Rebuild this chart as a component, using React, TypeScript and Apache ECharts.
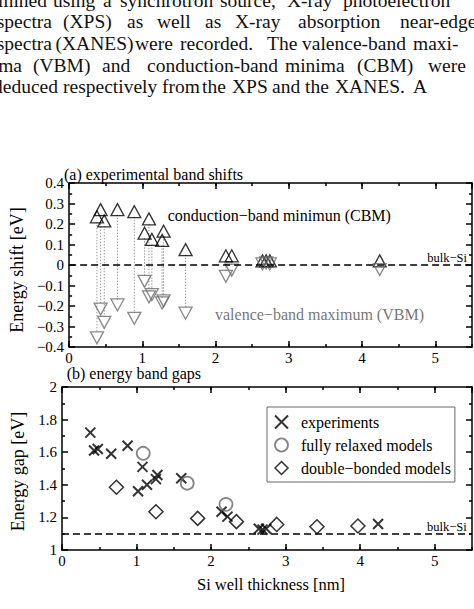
import React, { useEffect, useRef } from 'react';
import * as echarts from 'echarts';

// ---- (a) experimental band shifts ----
const shiftThickness = [0.38, 0.43, 0.48, 0.66, 0.89, 1.03, 1.09, 1.13, 1.27, 1.29, 1.59, 2.14, 2.22, 2.64, 2.69, 2.74, 4.24];
const cbmShift = [0.235, 0.27, 0.215, 0.27, 0.26, 0.155, 0.225, 0.125, 0.12, 0.165, 0.075, 0.045, 0.045, 0.02, 0.02, 0.02, 0.02];
const vbmShift = [-0.355, -0.215, -0.28, -0.195, -0.26, -0.08, -0.155, -0.145, -0.185, -0.175, -0.235, -0.055, -0.025, 0.005, 0.01, 0.005, -0.022];
const bulkShift = 0;

// ---- (b) energy band gaps ----
const expThickness = [0.38, 0.43, 0.48, 0.66, 0.88, 1.02, 1.08, 1.14, 1.26, 1.28, 1.6, 2.14, 2.22, 2.64, 2.69, 2.74, 4.24];
const expGap = [1.72, 1.61, 1.62, 1.59, 1.64, 1.36, 1.51, 1.4, 1.435, 1.46, 1.44, 1.235, 1.205, 1.13, 1.125, 1.13, 1.16];
const relaxedThickness = [1.09, 1.68, 2.2];
const relaxedGap = [1.593, 1.41, 1.28];
const doubleThickness = [0.73, 1.26, 1.82, 2.34, 2.88, 3.42, 3.97];
const doubleGap = [1.385, 1.235, 1.194, 1.174, 1.157, 1.143, 1.147];
const bulkGap = 1.1;

// ---- tick labels / names ----
const xTickLabels = ['0', '1', '2', '3', '4', '5'];
const shiftTickLabels = ['−0.4', '−0.3', '−0.2', '−0.1', '0', '0.1', '0.2', '0.3', '0.4'];
const gapTickLabels = ['1', '1.2', '1.4', '1.6', '1.8', '2'];
const legendNames = ['experiments', 'fully relaxed models', 'double−bonded models'];

const FONT = '"Liberation Serif", "Times New Roman", serif';

// paragraph (text above the figure): [centerY, [[x, word, align]...]]
const paragraph: [number, [number, string, string][]][] = [
  [0, [[47, 'examined', 'right'], [53, 'using', 'left'], [103, 'a', 'left'], [120, 'synchrotron', 'left'], [220, 'source,', 'left'], [287, 'X-ray', 'left'], [343, 'photoelectron', 'left']]],
  [21.8, [[52, 'spectra', 'right'], [63, '(XPS)', 'left'], [127, 'as', 'left'], [157, 'well', 'left'], [205, 'as', 'left'], [235, 'X-ray', 'left'], [298, 'absorption', 'left'], [400, 'near-edge', 'left']]],
  [43.4, [[52, 'spectra', 'right'], [55.5, '(XANES)', 'left'], [135, 'were', 'left'], [180, 'recorded.', 'left'], [267, 'The', 'left'], [302, 'valence-band', 'left'], [413, 'maxi-', 'left']]],
  [65, [[22, 'maxima', 'right'], [33, '(VBM)', 'left'], [102, 'and', 'left'], [147, 'conduction-band', 'left'], [285, 'minima', 'left'], [357, '(CBM)', 'left'], [428, 'were', 'left']]],
  [86.7, [[58, 'deduced', 'right'], [63, 'respectively', 'left'], [162, 'from', 'left'], [202, 'the', 'left'], [232, 'XPS', 'left'], [272, 'and', 'left'], [305, 'the', 'left'], [335, 'XANES.', 'left'], [413, 'A', 'left']]],
];

function txt(x: number, y: number, text: string, size: number, fill = '#000', align = 'left') {
  return {
    type: 'text',
    x,
    y,
    silent: true,
    style: {
      text,
      fill,
      fontSize: size,
      fontFamily: FONT,
      align,
      verticalAlign: 'middle',
      textAlign: align,
      textVerticalAlign: 'middle',
    },
  };
}

const AX = { color: '#000', width: 1.5 };

function xAxesFor(gridIndex: number, extra: any = {}) {
  const base = {
    type: 'value',
    gridIndex,
    min: 0,
    max: 5.5,
    splitLine: { show: false },
  };
  return [
    {
      ...base,
      position: 'bottom',
      interval: 1,
      axisLine: { show: true, onZero: false, lineStyle: AX },
      axisTick: { show: true, inside: true, length: 6, lineStyle: AX },
      axisLabel: {
        show: true,
        showMaxLabel: false,
        margin: 3,
        fontSize: 15,
        fontFamily: FONT,
        color: '#000',
        formatter: (v: number) => xTickLabels[Math.round(v)] ?? '',
      },
      ...extra,
    },
    {
      ...base,
      position: 'bottom',
      interval: 0.5,
      axisLine: { show: false, onZero: false },
      axisTick: { show: true, inside: true, length: 3, lineStyle: AX },
      axisLabel: { show: false },
    },
    {
      ...base,
      position: 'top',
      interval: 1,
      axisLine: { show: true, onZero: false, lineStyle: AX },
      axisTick: { show: true, inside: true, length: 6, lineStyle: AX },
      axisLabel: { show: false },
    },
    {
      ...base,
      position: 'top',
      interval: 0.5,
      axisLine: { show: false, onZero: false },
      axisTick: { show: true, inside: true, length: 3, lineStyle: AX },
      axisLabel: { show: false },
    },
  ];
}

function yAxesFor(gridIndex: number, min: number, max: number, interval: number, labels: string[], name: string, namePad: number) {
  const base = {
    type: 'value',
    gridIndex,
    min,
    max,
    interval,
    splitLine: { show: false },
    minorSplitLine: { show: false },
    axisLine: { show: true, onZero: false, lineStyle: AX },
    axisTick: { show: true, inside: true, length: 6, lineStyle: AX },
    minorTick: { show: true, splitNumber: 2, length: 3, lineStyle: AX },
  };
  return [
    {
      ...base,
      position: 'left',
      axisLabel: {
        show: true,
        margin: 5,
        fontSize: 15,
        fontFamily: FONT,
        color: '#000',
        formatter: (v: number) => labels[Math.round((v - min) / interval)] ?? '',
      },
      name,
      nameLocation: 'middle',
      nameRotate: 90,
      nameGap: 34,
      nameTextStyle: { fontSize: 18, fontFamily: FONT, color: '#000', padding: [0, namePad, 0, 0] },
    },
    {
      ...base,
      position: 'right',
      axisLabel: { show: false },
    },
  ];
}

const hollow = (c: string, w: number) => ({ color: 'transparent', borderColor: c, borderWidth: w });
const CROSS = 'path://M0 0L10 10M10 0L0 10';

export default function App() {
  const ref = useRef<HTMLDivElement>(null);

  useEffect(() => {
    if (!ref.current) return;
    const chart = echarts.init(ref.current, undefined, { renderer: 'svg' });

    const graphics: any[] = [];
    paragraph.forEach(([y, words]) => {
      words.forEach(([x, w, align]) => graphics.push(txt(x, y, w, 19.5, '#111', align)));
    });
    graphics.push(txt(64, 174.5, '(a) experimental band shifts', 16));
    graphics.push(txt(167.7, 215, 'conduction−band minimun (CBM)', 16));
    graphics.push(txt(215, 314.5, 'valence−band maximum (VBM)', 16, '#777'));
    graphics.push(txt(467, 257.7, 'bulk−Si', 12.5, '#000', 'right'));
    graphics.push(txt(66.7, 373.8, '(b) energy band gaps', 16));
    graphics.push(txt(466.7, 526.7, 'bulk−Si', 12.5, '#000', 'right'));

    const option: any = {
      animation: false,
      backgroundColor: '#fff',
      textStyle: { fontFamily: FONT },
      grid: [
        { left: 62, top: 183, width: 410, height: 164 },
        { left: 62, top: 387, width: 410, height: 163 },
      ],
      xAxis: [
        ...xAxesFor(0),
        ...xAxesFor(1, {
          name: 'Si well thickness [nm]',
          nameLocation: 'middle',
          nameGap: 26,
          nameTextStyle: { fontSize: 16.5, fontFamily: FONT, color: '#000', padding: [0, 0, 0, 8] },
        }),
      ],
      yAxis: [
        ...yAxesFor(0, -0.4, 0.4, 0.1, shiftTickLabels, 'Energy shift [eV]', 10),
        ...yAxesFor(1, 1, 2, 0.2, gapTickLabels, 'Energy gap [eV]', 6),
      ],
      legend: {
        orient: 'vertical',
        left: 267,
        top: 407,
        padding: [7, 4, 6, 7],
        itemGap: 7,
        itemWidth: 13,
        itemHeight: 13,
        borderColor: '#666',
        borderWidth: 1,
        backgroundColor: '#fff',
        selectedMode: false,
        textStyle: { fontSize: 16, fontFamily: FONT, color: '#000', padding: [0, 0, 0, 8] },
        data: [
          { name: legendNames[0], icon: CROSS, itemStyle: hollow('#000', 2) },
          { name: legendNames[1], icon: 'circle', itemStyle: hollow('#666', 1.8) },
          { name: legendNames[2], icon: 'diamond', itemStyle: hollow('#000', 1.5) },
        ],
      },
      series: [
        {
          type: 'custom',
          name: 'pairs',
          xAxisIndex: 0,
          yAxisIndex: 0,
          z: 1,
          silent: true,
          encode: { x: 0, y: [1, 2] },
          data: shiftThickness.map((x, i) => [x, cbmShift[i], vbmShift[i]]),
          renderItem: (params: any, api: any) => {
            const x = api.value(0);
            const p1 = api.coord([x, api.value(1)]);
            const p2 = api.coord([x, api.value(2)]);
            if (p2[1] - p1[1] < 12) return { type: 'group', children: [] };
            return {
              type: 'line',
              shape: { x1: p1[0], y1: p1[1] + 5, x2: p2[0], y2: p2[1] - 5 },
              style: { stroke: '#999', lineWidth: 1, lineDash: [1.5, 1.5] },
            };
          },
        },
        {
          type: 'scatter',
          name: 'CBM',
          xAxisIndex: 0,
          yAxisIndex: 0,
          z: 3,
          symbol: 'triangle',
          symbolSize: [13, 12],
          itemStyle: hollow('#000', 1.3),
          data: shiftThickness.map((x, i) => [x, cbmShift[i]]),
          markLine: {
            silent: true,
            symbol: ['none', 'none'],
            label: { show: false },
            lineStyle: { color: '#000', width: 1.5, type: [7, 4] },
            data: [{ yAxis: bulkShift }],
          },
        },
        {
          type: 'scatter',
          name: 'VBM',
          xAxisIndex: 0,
          yAxisIndex: 0,
          z: 3,
          symbol: 'triangle',
          symbolRotate: 180,
          symbolSize: [13, 12],
          itemStyle: hollow('#6a6a6a', 1.3),
          data: shiftThickness.map((x, i) => [x, vbmShift[i]]),
        },
        {
          type: 'scatter',
          name: legendNames[0],
          xAxisIndex: 4,
          yAxisIndex: 2,
          z: 3,
          symbol: CROSS,
          symbolSize: 10,
          itemStyle: hollow('#000', 2),
          data: expThickness.map((x, i) => [x, expGap[i]]),
          markLine: {
            silent: true,
            symbol: ['none', 'none'],
            label: { show: false },
            lineStyle: { color: '#000', width: 1.5, type: [7, 4] },
            data: [{ yAxis: bulkGap }],
          },
        },
        {
          type: 'scatter',
          name: legendNames[1],
          xAxisIndex: 4,
          yAxisIndex: 2,
          z: 3,
          symbol: 'circle',
          symbolSize: 13,
          itemStyle: hollow('#666', 1.8),
          data: relaxedThickness.map((x, i) => [x, relaxedGap[i]]),
        },
        {
          type: 'scatter',
          name: legendNames[2],
          xAxisIndex: 4,
          yAxisIndex: 2,
          z: 3,
          symbol: 'diamond',
          symbolSize: 14,
          itemStyle: hollow('#000', 1.5),
          data: doubleThickness.map((x, i) => [x, doubleGap[i]]),
        },
      ],
      graphic: graphics,
    };

    chart.setOption(option);
    return () => chart.dispose();
  }, []);

  return (
    <div
      ref={ref}
      style={{ position: 'absolute', left: 0, top: 0, width: 474, height: 609, background: '#fff' }}
    />
  );
}
